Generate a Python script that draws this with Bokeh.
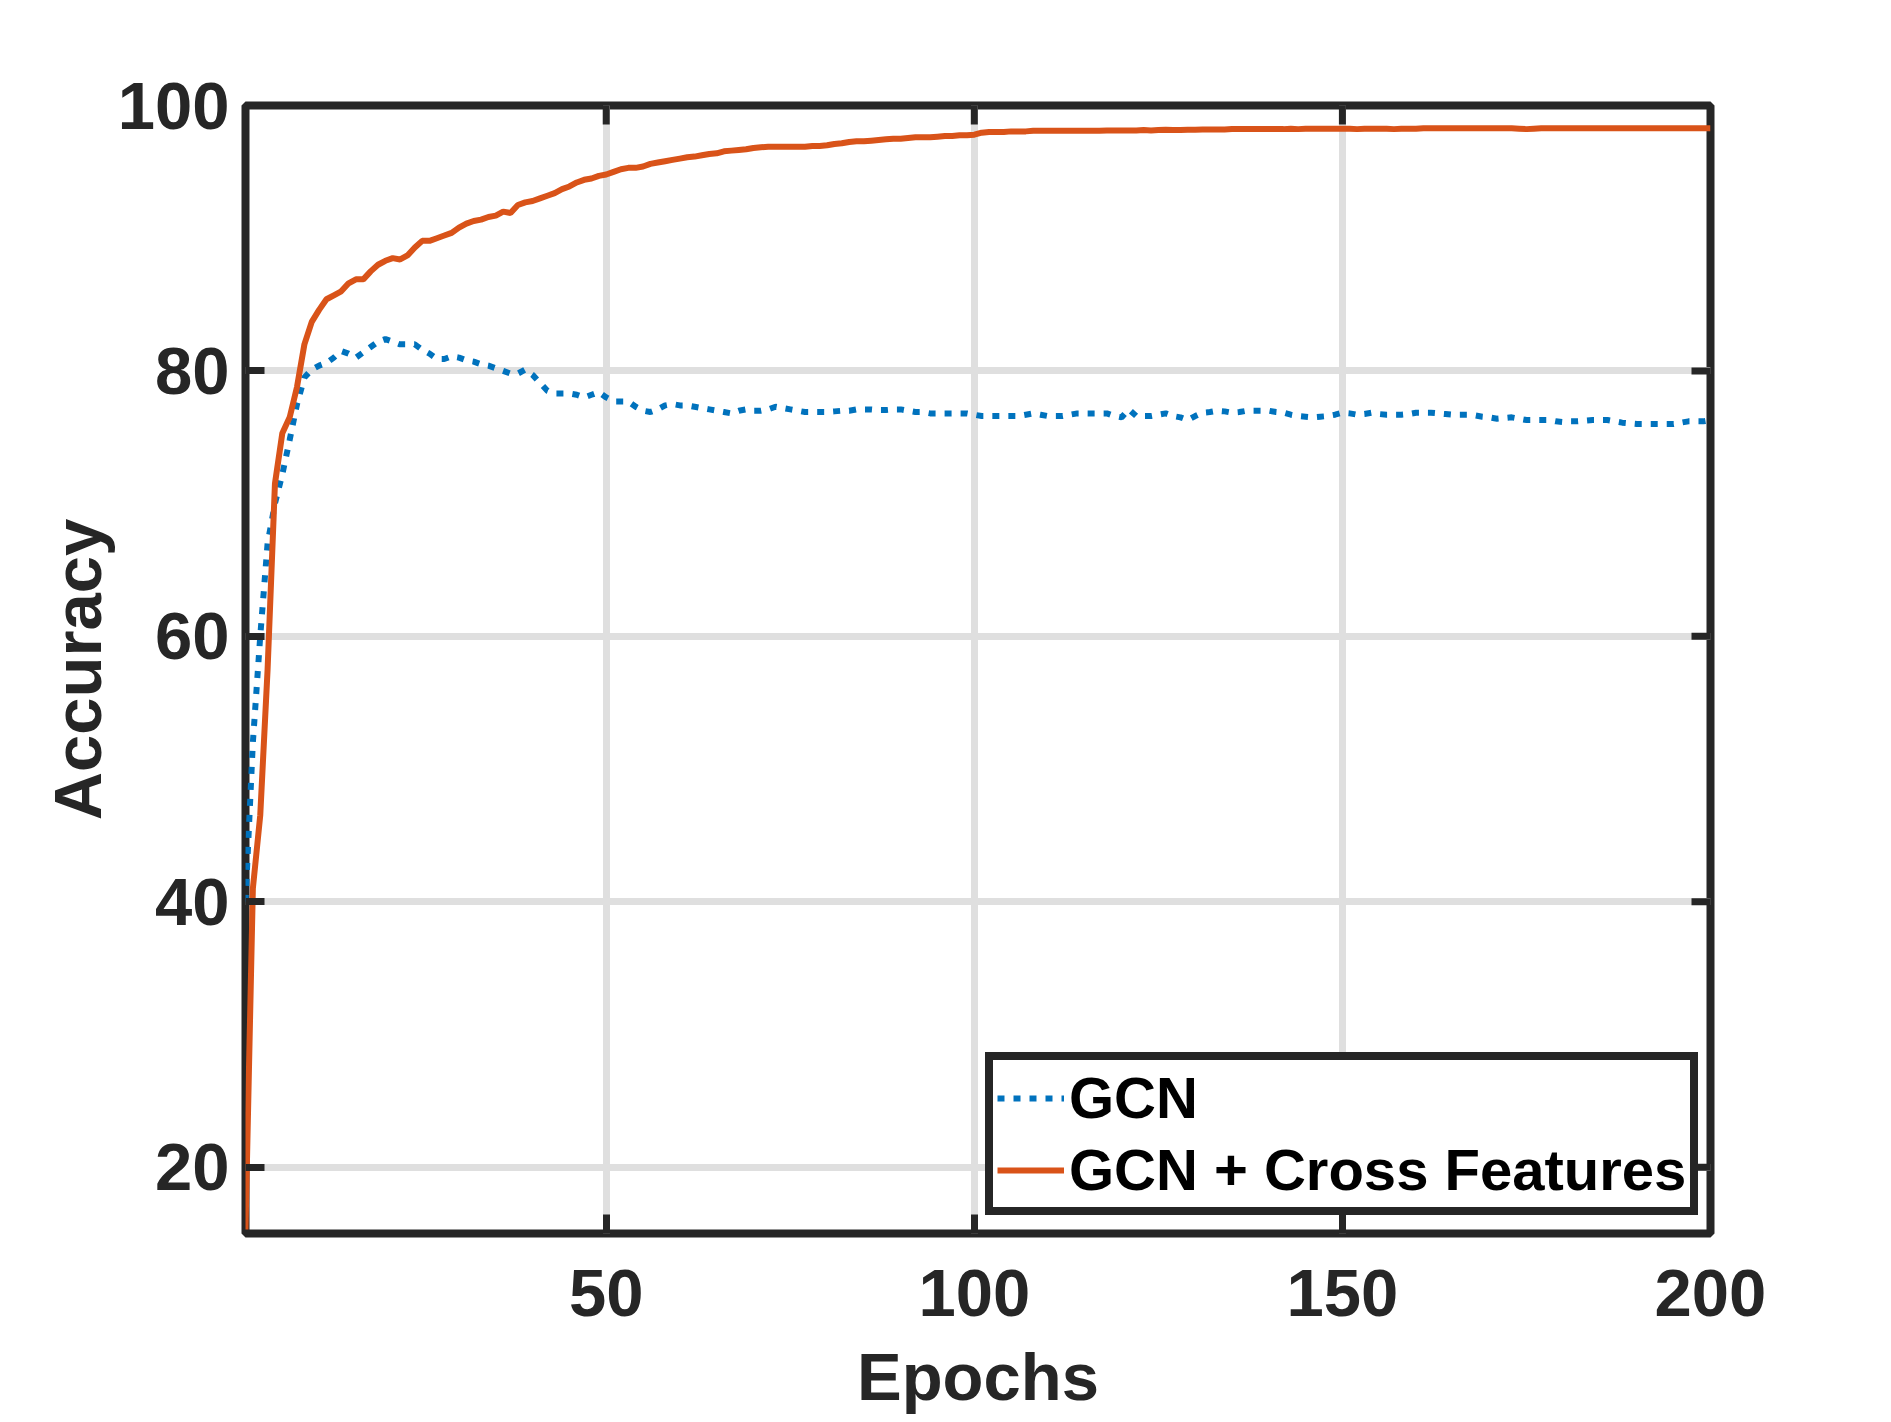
import math
from bokeh.plotting import figure
from bokeh.models import Range1d, FixedTicker, Legend, LegendItem, ColumnDataSource
from bokeh.embed import file_html
from bokeh.resources import INLINE

epochs = list(range(1, 201))

gcn = [
    40.0, 52.0, 60.0, 67.0, 70.0, 72.2, 74.8, 77.5, 79.5, 80.1,
    80.4, 80.6, 81.0, 81.5, 81.3, 81.0, 81.4, 81.8, 82.2, 82.4,
    82.2, 82.0, 82.0, 82.0, 81.6, 81.3, 80.9, 80.9, 81.1, 81.0,
    80.8, 80.7, 80.5, 80.4, 80.2, 80.0, 79.8, 79.8, 80.1, 79.7,
    79.1, 78.5, 78.3, 78.3, 78.3, 78.2, 78.0, 78.2, 78.4, 78.0,
    77.7, 77.7, 77.7, 77.3, 77.0, 76.9, 77.1, 77.4, 77.5, 77.4,
    77.4, 77.3, 77.2, 77.1, 77.0, 76.9, 76.8, 77.0, 77.1, 77.0,
    77.0, 77.1, 77.3, 77.2, 77.1, 77.0, 76.9, 76.9, 76.9, 76.9,
    76.95, 77.0, 77.0, 77.1, 77.1, 77.1, 77.05, 77.05, 77.1, 77.1,
    77.0, 76.9, 76.9, 76.8, 76.8, 76.8, 76.8, 76.8, 76.8, 76.7,
    76.6, 76.6, 76.6, 76.6, 76.6, 76.6, 76.7, 76.8, 76.7, 76.6,
    76.6, 76.6, 76.7, 76.8, 76.8, 76.8, 76.8, 76.8, 76.6, 76.5,
    77.1, 76.6, 76.6, 76.6, 76.7, 76.8, 76.6, 76.5, 76.3, 76.6,
    76.85, 76.9, 77.0, 76.95, 76.85, 76.9, 77.0, 77.0, 77.0, 77.0,
    76.9, 76.85, 76.7, 76.6, 76.55, 76.5, 76.55, 76.6, 76.7, 76.85,
    76.8, 76.7, 76.75, 76.85, 76.75, 76.7, 76.7, 76.7, 76.75, 76.85,
    76.85, 76.85, 76.8, 76.75, 76.7, 76.7, 76.7, 76.65, 76.55, 76.5,
    76.4, 76.45, 76.5, 76.4, 76.3, 76.3, 76.3, 76.3, 76.2, 76.15,
    76.2, 76.2, 76.25, 76.3, 76.3, 76.3, 76.2, 76.1, 76.05, 76.0,
    76.0, 76.0, 76.0, 76.0, 76.0, 76.1, 76.2, 76.2, 76.2, 76.3,
]

gcn_cross = [
    15.3, 41.0, 46.5, 57.5, 71.5, 75.3, 76.5, 78.8, 82.0, 83.7,
    84.6, 85.4, 85.7, 86.0, 86.6, 86.9, 86.9, 87.5, 88.0, 88.3,
    88.5, 88.4, 88.7, 89.3, 89.8, 89.8, 90.0, 90.2, 90.4, 90.8,
    91.1, 91.3, 91.4, 91.6, 91.7, 92.0, 91.9, 92.5, 92.7, 92.8,
    93.0, 93.2, 93.4, 93.7, 93.9, 94.2, 94.4, 94.5, 94.7, 94.8,
    95.0, 95.2, 95.3, 95.3, 95.4, 95.6, 95.7, 95.8, 95.9, 96.0,
    96.1, 96.15, 96.25, 96.35, 96.4, 96.55, 96.6, 96.65, 96.7, 96.8,
    96.85, 96.9, 96.9, 96.9, 96.9, 96.9, 96.9, 96.95, 96.95, 97.0,
    97.1, 97.15, 97.25, 97.3, 97.3, 97.35, 97.4, 97.45, 97.5, 97.5,
    97.55, 97.6, 97.6, 97.6, 97.65, 97.7, 97.7, 97.75, 97.75, 97.8,
    97.95, 98.0, 98.0, 98.0, 98.05, 98.05, 98.05, 98.1, 98.1, 98.1,
    98.1, 98.1, 98.1, 98.1, 98.1, 98.1, 98.1, 98.12, 98.12, 98.12,
    98.12, 98.12, 98.15, 98.12, 98.15, 98.18, 98.15, 98.15, 98.18, 98.18,
    98.2, 98.2, 98.2, 98.2, 98.22, 98.22, 98.22, 98.22, 98.22, 98.22,
    98.22, 98.22, 98.25, 98.22, 98.25, 98.25, 98.25, 98.25, 98.25, 98.25,
    98.25, 98.22, 98.25, 98.25, 98.25, 98.25, 98.22, 98.25, 98.25, 98.25,
    98.28, 98.28, 98.28, 98.28, 98.28, 98.28, 98.28, 98.28, 98.28, 98.28,
    98.28, 98.28, 98.28, 98.25, 98.22, 98.25, 98.28, 98.28, 98.28, 98.28,
    98.28, 98.28, 98.28, 98.28, 98.28, 98.28, 98.28, 98.28, 98.28, 98.28,
    98.28, 98.28, 98.28, 98.28, 98.28, 98.28, 98.28, 98.28, 98.28, 98.28,
]

x_ticks = [50, 100, 150, 200]
y_ticks = [20, 40, 60, 80, 100]
x_limits = (1, 200)
y_limits = (15, 100)
series_labels = ["GCN", "GCN + Cross Features"]

FONT = "Liberation Sans"
DARK = "#262626"

p = figure(
    frame_width=1465, frame_height=1128,
    x_range=Range1d(*x_limits), y_range=Range1d(*y_limits),
    output_backend="svg", toolbar_location=None,
    min_border_left=245, min_border_top=105, min_border_right=120, min_border_bottom=170,
    background_fill_color="white", border_fill_color="white",
)
p.outline_line_color = DARK
p.outline_line_width = 8
p.outline_line_alpha = 1

for ax in [p.xaxis[0], p.yaxis[0]]:
    ax.axis_line_color = None
    ax.major_tick_in = 19
    ax.major_tick_out = 0
    ax.major_tick_line_width = 7
    ax.major_tick_line_color = DARK
    ax.minor_tick_line_color = None
    ax.major_label_text_font = FONT
    ax.major_label_text_font_style = "bold"
    ax.major_label_text_font_size = "67px"
    ax.major_label_text_color = DARK
    ax.axis_label_text_font = FONT
    ax.axis_label_text_font_style = "bold"
    ax.axis_label_text_font_size = "67px"
    ax.axis_label_text_color = DARK

p.xaxis[0].ticker = FixedTicker(ticks=x_ticks)
p.yaxis[0].ticker = FixedTicker(ticks=y_ticks)
p.xaxis[0].axis_label = "Epochs"
p.yaxis[0].axis_label = "Accuracy"
p.xaxis[0].major_label_standoff = 36
p.xaxis[0].axis_label_standoff = 20
p.yaxis[0].major_label_standoff = 16
p.yaxis[0].axis_label_standoff = 0

p.xgrid.ticker = FixedTicker(ticks=x_ticks)
p.ygrid.ticker = FixedTicker(ticks=y_ticks)
for g in [p.xgrid[0], p.ygrid[0]]:
    g.grid_line_color = "#dfdfdf"
    g.grid_line_width = 7

src = ColumnDataSource(dict(x=epochs, gcn=gcn, cross=gcn_cross))
r1 = p.line("x", "gcn", source=src, line_color="#0072BD", line_width=6, line_dash="7 9")
r2 = p.line("x", "cross", source=src, line_color="#D95319", line_width=6)

# mirrored inward ticks on the top and right edges of the box (clipped to the frame)
p.scatter(x=x_ticks, y=[y_limits[1]] * len(x_ticks), marker="dash", size=38,
          angle=math.pi / 2, line_color=DARK, line_width=7, fill_color=None)
p.scatter(x=[x_limits[1]] * len(y_ticks), y=y_ticks, marker="dash", size=38,
          angle=0, line_color=DARK, line_width=7, fill_color=None)

legend = Legend(
    items=[LegendItem(label=series_labels[0], renderers=[r1]),
           LegendItem(label=series_labels[1], renderers=[r2])],
    location=(740, 18),
    label_text_font=FONT, label_text_font_style="bold", label_text_font_size="58px",
    label_text_color="black",
    border_line_color=DARK, border_line_width=8, border_line_alpha=1,
    background_fill_color="white", background_fill_alpha=1,
    padding=4, spacing=5, margin=0,
    glyph_width=67, glyph_height=64, label_height=64, label_standoff=5,
)
p.add_layout(legend)

open("out.html", "w").write(file_html(p, INLINE))
